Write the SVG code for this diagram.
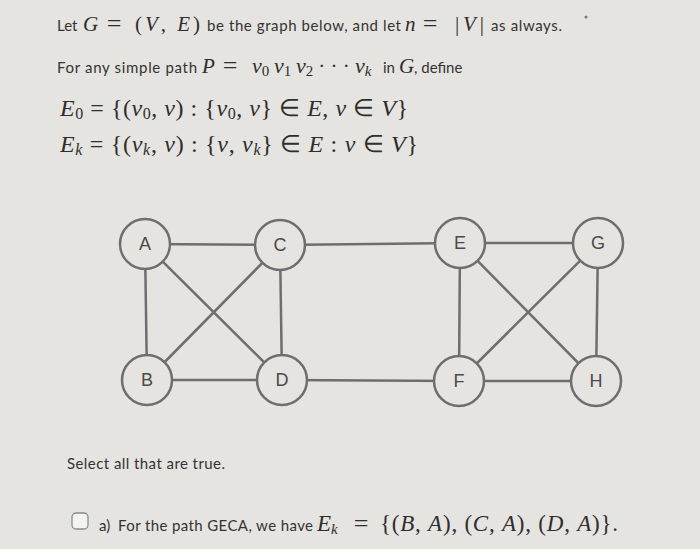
<svg xmlns="http://www.w3.org/2000/svg" width="700" height="549" viewBox="0 0 700 549">
<style>
.bg{fill:#e5e4e0}
.t{font-family:Lato,"Liberation Sans",sans-serif;font-size:15px;fill:#333}
.m{font-family:"Liberation Serif",serif;fill:#2e2e2e}
.i{font-style:italic}
.eq{font-family:"Liberation Serif",serif;font-size:26px;fill:#2e2e2e;text-anchor:middle}
.edge{stroke:#6e6e6e;stroke-width:2.5;fill:none;stroke-linecap:round}
.node circle{fill:#e5e4e0;stroke:#6e6e6e;stroke-width:2.5}
.node text{font-family:"Liberation Sans",sans-serif;font-size:18px;fill:#4a4a4a;text-anchor:middle;dominant-baseline:central}
</style>
<rect class="bg" x="0" y="0" width="700" height="549"/>
<circle cx="586" cy="17" r="1.5" fill="#777"/>

<!-- Line 1 -->
<text class="t" x="57" y="31">Let</text>
<text class="m i" x="83" y="31" font-size="21">G</text>
<text class="eq" x="114" y="32">=</text>
<text class="m" x="135" y="31" font-size="21" textLength="65">(<tspan class="i">V</tspan>, <tspan class="i">E</tspan>)</text>
<text class="t" x="207" y="31" textLength="194">be the graph below, and let</text>
<text class="m i" x="405" y="31" font-size="21">n</text>
<text class="eq" x="430" y="32">=</text>
<text class="m" x="455" y="31" font-size="21" textLength="29">|<tspan class="i">V</tspan>|</text>
<text class="t" x="491" y="31" textLength="71">as always.</text>

<!-- Line 2 -->
<text class="t" x="57" y="73" textLength="140">For any simple path</text>
<text class="m i" x="202" y="73" font-size="21">P</text>
<text class="eq" x="230" y="74">=</text>
<text class="m" y="73" font-size="22"><tspan class="i" x="252">v</tspan><tspan font-size="15" dy="3">0</tspan><tspan class="i" x="274" dy="-3">v</tspan><tspan font-size="15" dy="3">1</tspan><tspan class="i" x="296" dy="-3">v</tspan><tspan font-size="15" dy="3">2</tspan></text>
<text class="m" x="334" y="73" font-size="21" text-anchor="middle">· · ·</text>
<text class="m" x="355" y="73" font-size="22"><tspan class="i">v</tspan><tspan class="i" font-size="15" dy="3">k</tspan></text>
<text class="t" x="383" y="73">in</text>
<text class="m i" x="399" y="73" font-size="21">G</text>
<text class="t" x="414" y="73">, define</text>

<!-- Line 3 -->
<text class="m" x="60" y="116" font-size="24" textLength="348"><tspan class="i">E</tspan><tspan font-size="16" dy="3">0</tspan><tspan dy="-3"> = {(</tspan><tspan class="i">v</tspan><tspan font-size="16" dy="3">0</tspan><tspan dy="-3">, </tspan><tspan class="i">v</tspan>) : {<tspan class="i">v</tspan><tspan font-size="16" dy="3">0</tspan><tspan dy="-3">, </tspan><tspan class="i">v</tspan>} ∈ <tspan class="i">E</tspan>, <tspan class="i">v</tspan> ∈ <tspan class="i">V</tspan>}</text>

<!-- Line 4 -->
<text class="m" x="60" y="152" font-size="24" textLength="358"><tspan class="i">E</tspan><tspan class="i" font-size="16" dy="3">k</tspan><tspan dy="-3"> = {(</tspan><tspan class="i">v</tspan><tspan class="i" font-size="16" dy="3">k</tspan><tspan dy="-3">, </tspan><tspan class="i">v</tspan>) : {<tspan class="i">v</tspan>, <tspan class="i">v</tspan><tspan class="i" font-size="16" dy="3">k</tspan><tspan dy="-3">} ∈ </tspan><tspan class="i">E</tspan> : <tspan class="i">v</tspan> ∈ <tspan class="i">V</tspan>}</text>

<!-- Graph connectors -->
<g id="connectors">
<line class="edge" x1="145" y1="244" x2="280" y2="245"/>
<line class="edge" x1="280" y1="245" x2="460" y2="243"/>
<line class="edge" x1="460" y1="243" x2="598" y2="243"/>
<line class="edge" x1="145" y1="244" x2="147" y2="380"/>
<line class="edge" x1="145" y1="244" x2="282" y2="380"/>
<line class="edge" x1="280" y1="245" x2="147" y2="380"/>
<line class="edge" x1="280" y1="245" x2="282" y2="380"/>
<line class="edge" x1="147" y1="380" x2="282" y2="380"/>
<line class="edge" x1="282" y1="380" x2="459" y2="381"/>
<line class="edge" x1="459" y1="381" x2="596" y2="381"/>
<line class="edge" x1="460" y1="243" x2="459" y2="381"/>
<line class="edge" x1="460" y1="243" x2="596" y2="381"/>
<line class="edge" x1="598" y1="243" x2="459" y2="381"/>
<line class="edge" x1="598" y1="243" x2="596" y2="381"/>
</g>

<!-- Nodes -->
<g id="node-A" class="node"><circle cx="145" cy="244" r="25"/><text x="145" y="244">A</text></g>
<g id="node-C" class="node"><circle cx="280" cy="245" r="25"/><text x="280" y="245">C</text></g>
<g id="node-E" class="node"><circle cx="460" cy="243" r="25"/><text x="460" y="243">E</text></g>
<g id="node-G" class="node"><circle cx="598" cy="243" r="25"/><text x="598" y="243">G</text></g>
<g id="node-B" class="node"><circle cx="147" cy="380" r="25"/><text x="147" y="380">B</text></g>
<g id="node-D" class="node"><circle cx="282" cy="380" r="25"/><text x="282" y="380">D</text></g>
<g id="node-F" class="node"><circle cx="459" cy="381" r="25"/><text x="459" y="381">F</text></g>
<g id="node-H" class="node"><circle cx="596" cy="381" r="25"/><text x="596" y="381">H</text></g>

<!-- Bottom -->
<text class="t" x="67" y="469" textLength="158">Select all that are true.</text>
<rect x="72" y="513" width="16" height="16" rx="4" fill="#f3f3f1" stroke="#8a8a8a" stroke-width="1.3"/>
<text class="t" x="99" y="531">a)</text>
<text class="t" x="118" y="531" textLength="195">For the path GECA, we have</text>
<text class="m" x="317" y="531" font-size="23"><tspan class="i">E</tspan><tspan class="i" font-size="15" dy="3">k</tspan></text>
<text class="eq" x="361" y="532">=</text>
<text class="m" x="380" y="531" font-size="23" textLength="238">{(<tspan class="i">B</tspan>, <tspan class="i">A</tspan>), (<tspan class="i">C</tspan>, <tspan class="i">A</tspan>), (<tspan class="i">D</tspan>, <tspan class="i">A</tspan>)}.</text>
</svg>
